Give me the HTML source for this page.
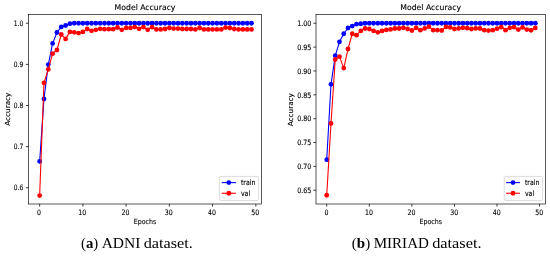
<!DOCTYPE html>
<html lang="en"><head><meta charset="utf-8"><title>Model Accuracy</title>
<style>
html,body{margin:0;padding:0;background:#fff;}
body{width:550px;height:256px;overflow:hidden;position:relative;font-family:"Liberation Serif","DejaVu Serif",serif;}
svg{position:absolute;left:0;top:0;display:block;}
</style></head><body>
<svg width="550" height="256" viewBox="0 0 550 256" font-family="'DejaVu Sans', 'Liberation Sans', sans-serif" fill="#000">
<rect width="550" height="256" fill="#fff"/>
<clipPath id="c28"><rect x="28.5" y="14.45" width="233.05" height="189.55"/></clipPath>
<g clip-path="url(#c28)"><polyline points="39.64,161.43 43.97,98.92 48.29,64.58 52.61,43.40 56.94,32.50 61.26,26.95 65.59,25.51 69.91,23.66 74.23,23.25 78.56,23.25 82.88,23.25 87.20,23.25 91.53,23.25 95.85,23.25 100.18,23.25 104.50,23.25 108.82,23.25 113.15,23.25 117.47,23.25 121.79,23.25 126.12,23.25 130.44,23.25 134.77,23.25 139.09,23.25 143.41,23.25 147.74,23.25 152.06,23.25 156.38,23.25 160.71,23.25 165.03,23.25 169.36,23.25 173.68,23.25 178.00,23.25 182.33,23.25 186.65,23.25 190.97,23.25 195.30,23.25 199.62,23.25 203.95,23.25 208.27,23.25 212.59,23.25 216.92,23.25 221.24,23.25 225.56,23.25 229.89,23.25 234.21,23.25 238.54,23.25 242.86,23.25 247.18,23.25 251.51,23.25" fill="none" stroke="#0000ff" stroke-width="1.1" stroke-linejoin="round"/>
<circle cx="39.64" cy="161.43" r="2.4" fill="#0000ff"/>
<circle cx="43.97" cy="98.92" r="2.4" fill="#0000ff"/>
<circle cx="48.29" cy="64.58" r="2.4" fill="#0000ff"/>
<circle cx="52.61" cy="43.40" r="2.4" fill="#0000ff"/>
<circle cx="56.94" cy="32.50" r="2.4" fill="#0000ff"/>
<circle cx="61.26" cy="26.95" r="2.4" fill="#0000ff"/>
<circle cx="65.59" cy="25.51" r="2.4" fill="#0000ff"/>
<circle cx="69.91" cy="23.66" r="2.4" fill="#0000ff"/>
<circle cx="74.23" cy="23.25" r="2.4" fill="#0000ff"/>
<circle cx="78.56" cy="23.25" r="2.4" fill="#0000ff"/>
<circle cx="82.88" cy="23.25" r="2.4" fill="#0000ff"/>
<circle cx="87.20" cy="23.25" r="2.4" fill="#0000ff"/>
<circle cx="91.53" cy="23.25" r="2.4" fill="#0000ff"/>
<circle cx="95.85" cy="23.25" r="2.4" fill="#0000ff"/>
<circle cx="100.18" cy="23.25" r="2.4" fill="#0000ff"/>
<circle cx="104.50" cy="23.25" r="2.4" fill="#0000ff"/>
<circle cx="108.82" cy="23.25" r="2.4" fill="#0000ff"/>
<circle cx="113.15" cy="23.25" r="2.4" fill="#0000ff"/>
<circle cx="117.47" cy="23.25" r="2.4" fill="#0000ff"/>
<circle cx="121.79" cy="23.25" r="2.4" fill="#0000ff"/>
<circle cx="126.12" cy="23.25" r="2.4" fill="#0000ff"/>
<circle cx="130.44" cy="23.25" r="2.4" fill="#0000ff"/>
<circle cx="134.77" cy="23.25" r="2.4" fill="#0000ff"/>
<circle cx="139.09" cy="23.25" r="2.4" fill="#0000ff"/>
<circle cx="143.41" cy="23.25" r="2.4" fill="#0000ff"/>
<circle cx="147.74" cy="23.25" r="2.4" fill="#0000ff"/>
<circle cx="152.06" cy="23.25" r="2.4" fill="#0000ff"/>
<circle cx="156.38" cy="23.25" r="2.4" fill="#0000ff"/>
<circle cx="160.71" cy="23.25" r="2.4" fill="#0000ff"/>
<circle cx="165.03" cy="23.25" r="2.4" fill="#0000ff"/>
<circle cx="169.36" cy="23.25" r="2.4" fill="#0000ff"/>
<circle cx="173.68" cy="23.25" r="2.4" fill="#0000ff"/>
<circle cx="178.00" cy="23.25" r="2.4" fill="#0000ff"/>
<circle cx="182.33" cy="23.25" r="2.4" fill="#0000ff"/>
<circle cx="186.65" cy="23.25" r="2.4" fill="#0000ff"/>
<circle cx="190.97" cy="23.25" r="2.4" fill="#0000ff"/>
<circle cx="195.30" cy="23.25" r="2.4" fill="#0000ff"/>
<circle cx="199.62" cy="23.25" r="2.4" fill="#0000ff"/>
<circle cx="203.95" cy="23.25" r="2.4" fill="#0000ff"/>
<circle cx="208.27" cy="23.25" r="2.4" fill="#0000ff"/>
<circle cx="212.59" cy="23.25" r="2.4" fill="#0000ff"/>
<circle cx="216.92" cy="23.25" r="2.4" fill="#0000ff"/>
<circle cx="221.24" cy="23.25" r="2.4" fill="#0000ff"/>
<circle cx="225.56" cy="23.25" r="2.4" fill="#0000ff"/>
<circle cx="229.89" cy="23.25" r="2.4" fill="#0000ff"/>
<circle cx="234.21" cy="23.25" r="2.4" fill="#0000ff"/>
<circle cx="238.54" cy="23.25" r="2.4" fill="#0000ff"/>
<circle cx="242.86" cy="23.25" r="2.4" fill="#0000ff"/>
<circle cx="247.18" cy="23.25" r="2.4" fill="#0000ff"/>
<circle cx="251.51" cy="23.25" r="2.4" fill="#0000ff"/>
</g>
<g clip-path="url(#c28)"><polyline points="39.64,195.56 43.97,82.88 48.29,69.31 52.61,53.68 56.94,49.98 61.26,34.48 65.59,38.88 69.91,31.89 74.23,32.30 78.56,33.12 82.88,31.89 87.20,29.01 91.53,30.78 95.85,29.83 100.18,28.80 104.50,29.21 108.82,29.21 113.15,29.21 117.47,27.49 121.79,29.83 126.12,27.90 130.44,27.90 134.77,27.03 139.09,28.80 143.41,27.03 147.74,29.83 152.06,27.16 156.38,29.42 160.71,29.42 165.03,29.01 169.36,27.98 173.68,28.60 178.00,28.60 182.33,29.01 186.65,29.01 190.97,29.01 195.30,29.42 199.62,27.98 203.95,29.42 208.27,29.42 212.59,29.42 216.92,29.42 221.24,29.42 225.56,27.57 229.89,27.98 234.21,29.01 238.54,29.42 242.86,29.42 247.18,29.42 251.51,29.42" fill="none" stroke="#ff0000" stroke-width="1.1" stroke-linejoin="round"/>
<circle cx="39.64" cy="195.56" r="2.4" fill="#ff0000"/>
<circle cx="43.97" cy="82.88" r="2.4" fill="#ff0000"/>
<circle cx="48.29" cy="69.31" r="2.4" fill="#ff0000"/>
<circle cx="52.61" cy="53.68" r="2.4" fill="#ff0000"/>
<circle cx="56.94" cy="49.98" r="2.4" fill="#ff0000"/>
<circle cx="61.26" cy="34.48" r="2.4" fill="#ff0000"/>
<circle cx="65.59" cy="38.88" r="2.4" fill="#ff0000"/>
<circle cx="69.91" cy="31.89" r="2.4" fill="#ff0000"/>
<circle cx="74.23" cy="32.30" r="2.4" fill="#ff0000"/>
<circle cx="78.56" cy="33.12" r="2.4" fill="#ff0000"/>
<circle cx="82.88" cy="31.89" r="2.4" fill="#ff0000"/>
<circle cx="87.20" cy="29.01" r="2.4" fill="#ff0000"/>
<circle cx="91.53" cy="30.78" r="2.4" fill="#ff0000"/>
<circle cx="95.85" cy="29.83" r="2.4" fill="#ff0000"/>
<circle cx="100.18" cy="28.80" r="2.4" fill="#ff0000"/>
<circle cx="104.50" cy="29.21" r="2.4" fill="#ff0000"/>
<circle cx="108.82" cy="29.21" r="2.4" fill="#ff0000"/>
<circle cx="113.15" cy="29.21" r="2.4" fill="#ff0000"/>
<circle cx="117.47" cy="27.49" r="2.4" fill="#ff0000"/>
<circle cx="121.79" cy="29.83" r="2.4" fill="#ff0000"/>
<circle cx="126.12" cy="27.90" r="2.4" fill="#ff0000"/>
<circle cx="130.44" cy="27.90" r="2.4" fill="#ff0000"/>
<circle cx="134.77" cy="27.03" r="2.4" fill="#ff0000"/>
<circle cx="139.09" cy="28.80" r="2.4" fill="#ff0000"/>
<circle cx="143.41" cy="27.03" r="2.4" fill="#ff0000"/>
<circle cx="147.74" cy="29.83" r="2.4" fill="#ff0000"/>
<circle cx="152.06" cy="27.16" r="2.4" fill="#ff0000"/>
<circle cx="156.38" cy="29.42" r="2.4" fill="#ff0000"/>
<circle cx="160.71" cy="29.42" r="2.4" fill="#ff0000"/>
<circle cx="165.03" cy="29.01" r="2.4" fill="#ff0000"/>
<circle cx="169.36" cy="27.98" r="2.4" fill="#ff0000"/>
<circle cx="173.68" cy="28.60" r="2.4" fill="#ff0000"/>
<circle cx="178.00" cy="28.60" r="2.4" fill="#ff0000"/>
<circle cx="182.33" cy="29.01" r="2.4" fill="#ff0000"/>
<circle cx="186.65" cy="29.01" r="2.4" fill="#ff0000"/>
<circle cx="190.97" cy="29.01" r="2.4" fill="#ff0000"/>
<circle cx="195.30" cy="29.42" r="2.4" fill="#ff0000"/>
<circle cx="199.62" cy="27.98" r="2.4" fill="#ff0000"/>
<circle cx="203.95" cy="29.42" r="2.4" fill="#ff0000"/>
<circle cx="208.27" cy="29.42" r="2.4" fill="#ff0000"/>
<circle cx="212.59" cy="29.42" r="2.4" fill="#ff0000"/>
<circle cx="216.92" cy="29.42" r="2.4" fill="#ff0000"/>
<circle cx="221.24" cy="29.42" r="2.4" fill="#ff0000"/>
<circle cx="225.56" cy="27.57" r="2.4" fill="#ff0000"/>
<circle cx="229.89" cy="27.98" r="2.4" fill="#ff0000"/>
<circle cx="234.21" cy="29.01" r="2.4" fill="#ff0000"/>
<circle cx="238.54" cy="29.42" r="2.4" fill="#ff0000"/>
<circle cx="242.86" cy="29.42" r="2.4" fill="#ff0000"/>
<circle cx="247.18" cy="29.42" r="2.4" fill="#ff0000"/>
<circle cx="251.51" cy="29.42" r="2.4" fill="#ff0000"/>
</g>
<rect x="28.5" y="14.45" width="233.05" height="189.55" fill="none" stroke="#000" stroke-width="0.65"/>
<line x1="39.64" y1="204.0" x2="39.64" y2="206.6" stroke="#000" stroke-width="0.75"/>
<text transform="translate(38.99,215.10) scale(0.835,1)" text-anchor="middle" font-size="7.5" stroke="#000" stroke-width="0.12">0</text>
<line x1="82.88" y1="204.0" x2="82.88" y2="206.6" stroke="#000" stroke-width="0.75"/>
<text transform="translate(82.23,215.10) scale(0.835,1)" text-anchor="middle" font-size="7.5" stroke="#000" stroke-width="0.12">10</text>
<line x1="126.12" y1="204.0" x2="126.12" y2="206.6" stroke="#000" stroke-width="0.75"/>
<text transform="translate(125.47,215.10) scale(0.835,1)" text-anchor="middle" font-size="7.5" stroke="#000" stroke-width="0.12">20</text>
<line x1="169.36" y1="204.0" x2="169.36" y2="206.6" stroke="#000" stroke-width="0.75"/>
<text transform="translate(168.71,215.10) scale(0.835,1)" text-anchor="middle" font-size="7.5" stroke="#000" stroke-width="0.12">30</text>
<line x1="212.59" y1="204.0" x2="212.59" y2="206.6" stroke="#000" stroke-width="0.75"/>
<text transform="translate(211.94,215.10) scale(0.835,1)" text-anchor="middle" font-size="7.5" stroke="#000" stroke-width="0.12">40</text>
<line x1="255.83" y1="204.0" x2="255.83" y2="206.6" stroke="#000" stroke-width="0.75"/>
<text transform="translate(255.18,215.10) scale(0.835,1)" text-anchor="middle" font-size="7.5" stroke="#000" stroke-width="0.12">50</text>
<line x1="25.9" y1="187.75" x2="28.5" y2="187.75" stroke="#000" stroke-width="0.75"/>
<text transform="translate(23.30,190.49) scale(0.8,1)" text-anchor="end" font-size="7.5" stroke="#000" stroke-width="0.12">0.6</text>
<line x1="25.9" y1="146.62" x2="28.5" y2="146.62" stroke="#000" stroke-width="0.75"/>
<text transform="translate(23.30,149.36) scale(0.8,1)" text-anchor="end" font-size="7.5" stroke="#000" stroke-width="0.12">0.7</text>
<line x1="25.9" y1="105.50" x2="28.5" y2="105.50" stroke="#000" stroke-width="0.75"/>
<text transform="translate(23.30,108.24) scale(0.8,1)" text-anchor="end" font-size="7.5" stroke="#000" stroke-width="0.12">0.8</text>
<line x1="25.9" y1="64.38" x2="28.5" y2="64.38" stroke="#000" stroke-width="0.75"/>
<text transform="translate(23.30,67.11) scale(0.8,1)" text-anchor="end" font-size="7.5" stroke="#000" stroke-width="0.12">0.9</text>
<line x1="25.9" y1="23.25" x2="28.5" y2="23.25" stroke="#000" stroke-width="0.75"/>
<text transform="translate(23.30,25.99) scale(0.8,1)" text-anchor="end" font-size="7.5" stroke="#000" stroke-width="0.12">1.0</text>
<text transform="translate(145.03,9.90) scale(0.99,1)" text-anchor="middle" font-size="7.8" stroke="#000" stroke-width="0.12">Model Accuracy</text>
<text transform="translate(145.03,224.45) scale(0.875,1)" text-anchor="middle" font-size="7.2" stroke="#000" stroke-width="0.12">Epochs</text>
<text transform="translate(9.50,109.22) rotate(-90) scale(1.045,1)" text-anchor="middle" font-size="7.0" stroke="#000" stroke-width="0.12">Accuracy</text>
<rect x="219.3" y="176.4" width="39.30000000000001" height="24.099999999999994" rx="1.5" fill="#fff" fill-opacity="0.8" stroke="#cfcfcf" stroke-width="0.7"/>
<line x1="221.75" y1="182.60" x2="235.90" y2="182.60" stroke="#0000ff" stroke-width="1.1"/>
<circle cx="228.83" cy="182.60" r="2.4" fill="#0000ff"/>
<text transform="translate(240.90,185.07) scale(0.835,1)" text-anchor="start" font-size="7.5" stroke="#000" stroke-width="0.12">train</text>
<line x1="221.75" y1="193.25" x2="235.90" y2="193.25" stroke="#ff0000" stroke-width="1.1"/>
<circle cx="228.83" cy="193.25" r="2.4" fill="#ff0000"/>
<text transform="translate(240.90,195.72) scale(0.835,1)" text-anchor="start" font-size="7.5" stroke="#000" stroke-width="0.12">val</text>
<clipPath id="c316"><rect x="316.0" y="14.45" width="229.45000000000005" height="189.55"/></clipPath>
<g clip-path="url(#c316)"><polyline points="326.73,159.71 330.99,84.32 335.24,55.70 339.50,41.86 343.76,33.75 348.01,28.02 352.27,26.11 356.53,24.20 360.79,23.73 365.04,23.25 369.30,23.25 373.56,23.25 377.81,23.25 382.07,23.25 386.33,23.25 390.58,23.25 394.84,23.25 399.10,23.25 403.35,23.25 407.61,23.25 411.87,23.25 416.13,23.25 420.38,23.25 424.64,23.25 428.90,23.25 433.15,23.25 437.41,23.25 441.67,23.25 445.92,23.25 450.18,23.25 454.44,23.25 458.70,23.25 462.95,23.25 467.21,23.25 471.47,23.25 475.72,23.25 479.98,23.25 484.24,23.25 488.49,23.25 492.75,23.25 497.01,23.25 501.26,23.25 505.52,23.25 509.78,23.25 514.04,23.25 518.29,23.25 522.55,23.25 526.81,23.25 531.06,23.25 535.32,23.25" fill="none" stroke="#0000ff" stroke-width="1.1" stroke-linejoin="round"/>
<circle cx="326.73" cy="159.71" r="2.4" fill="#0000ff"/>
<circle cx="330.99" cy="84.32" r="2.4" fill="#0000ff"/>
<circle cx="335.24" cy="55.70" r="2.4" fill="#0000ff"/>
<circle cx="339.50" cy="41.86" r="2.4" fill="#0000ff"/>
<circle cx="343.76" cy="33.75" r="2.4" fill="#0000ff"/>
<circle cx="348.01" cy="28.02" r="2.4" fill="#0000ff"/>
<circle cx="352.27" cy="26.11" r="2.4" fill="#0000ff"/>
<circle cx="356.53" cy="24.20" r="2.4" fill="#0000ff"/>
<circle cx="360.79" cy="23.73" r="2.4" fill="#0000ff"/>
<circle cx="365.04" cy="23.25" r="2.4" fill="#0000ff"/>
<circle cx="369.30" cy="23.25" r="2.4" fill="#0000ff"/>
<circle cx="373.56" cy="23.25" r="2.4" fill="#0000ff"/>
<circle cx="377.81" cy="23.25" r="2.4" fill="#0000ff"/>
<circle cx="382.07" cy="23.25" r="2.4" fill="#0000ff"/>
<circle cx="386.33" cy="23.25" r="2.4" fill="#0000ff"/>
<circle cx="390.58" cy="23.25" r="2.4" fill="#0000ff"/>
<circle cx="394.84" cy="23.25" r="2.4" fill="#0000ff"/>
<circle cx="399.10" cy="23.25" r="2.4" fill="#0000ff"/>
<circle cx="403.35" cy="23.25" r="2.4" fill="#0000ff"/>
<circle cx="407.61" cy="23.25" r="2.4" fill="#0000ff"/>
<circle cx="411.87" cy="23.25" r="2.4" fill="#0000ff"/>
<circle cx="416.13" cy="23.25" r="2.4" fill="#0000ff"/>
<circle cx="420.38" cy="23.25" r="2.4" fill="#0000ff"/>
<circle cx="424.64" cy="23.25" r="2.4" fill="#0000ff"/>
<circle cx="428.90" cy="23.25" r="2.4" fill="#0000ff"/>
<circle cx="433.15" cy="23.25" r="2.4" fill="#0000ff"/>
<circle cx="437.41" cy="23.25" r="2.4" fill="#0000ff"/>
<circle cx="441.67" cy="23.25" r="2.4" fill="#0000ff"/>
<circle cx="445.92" cy="23.25" r="2.4" fill="#0000ff"/>
<circle cx="450.18" cy="23.25" r="2.4" fill="#0000ff"/>
<circle cx="454.44" cy="23.25" r="2.4" fill="#0000ff"/>
<circle cx="458.70" cy="23.25" r="2.4" fill="#0000ff"/>
<circle cx="462.95" cy="23.25" r="2.4" fill="#0000ff"/>
<circle cx="467.21" cy="23.25" r="2.4" fill="#0000ff"/>
<circle cx="471.47" cy="23.25" r="2.4" fill="#0000ff"/>
<circle cx="475.72" cy="23.25" r="2.4" fill="#0000ff"/>
<circle cx="479.98" cy="23.25" r="2.4" fill="#0000ff"/>
<circle cx="484.24" cy="23.25" r="2.4" fill="#0000ff"/>
<circle cx="488.49" cy="23.25" r="2.4" fill="#0000ff"/>
<circle cx="492.75" cy="23.25" r="2.4" fill="#0000ff"/>
<circle cx="497.01" cy="23.25" r="2.4" fill="#0000ff"/>
<circle cx="501.26" cy="23.25" r="2.4" fill="#0000ff"/>
<circle cx="505.52" cy="23.25" r="2.4" fill="#0000ff"/>
<circle cx="509.78" cy="23.25" r="2.4" fill="#0000ff"/>
<circle cx="514.04" cy="23.25" r="2.4" fill="#0000ff"/>
<circle cx="518.29" cy="23.25" r="2.4" fill="#0000ff"/>
<circle cx="522.55" cy="23.25" r="2.4" fill="#0000ff"/>
<circle cx="526.81" cy="23.25" r="2.4" fill="#0000ff"/>
<circle cx="531.06" cy="23.25" r="2.4" fill="#0000ff"/>
<circle cx="535.32" cy="23.25" r="2.4" fill="#0000ff"/>
</g>
<g clip-path="url(#c316)"><polyline points="326.73,195.26 330.99,123.45 335.24,59.51 339.50,56.65 343.76,68.10 348.01,49.02 352.27,33.75 356.53,35.18 360.79,30.88 365.04,28.50 369.30,28.98 373.56,30.88 377.81,32.32 382.07,30.88 386.33,29.93 390.58,29.45 394.84,28.50 399.10,28.50 403.35,27.83 407.61,28.98 411.87,30.50 416.13,27.83 420.38,30.17 424.64,28.40 428.90,26.64 433.15,30.17 437.41,30.17 441.67,30.50 445.92,26.97 450.18,27.40 454.44,28.98 458.70,28.40 462.95,27.83 467.21,28.16 471.47,28.98 475.72,28.40 479.98,28.50 484.24,30.17 488.49,30.60 492.75,30.17 497.01,28.64 501.26,27.21 505.52,30.17 509.78,27.83 514.04,27.21 518.29,29.55 522.55,27.45 526.81,29.55 531.06,30.26 535.32,27.93" fill="none" stroke="#ff0000" stroke-width="1.1" stroke-linejoin="round"/>
<circle cx="326.73" cy="195.26" r="2.4" fill="#ff0000"/>
<circle cx="330.99" cy="123.45" r="2.4" fill="#ff0000"/>
<circle cx="335.24" cy="59.51" r="2.4" fill="#ff0000"/>
<circle cx="339.50" cy="56.65" r="2.4" fill="#ff0000"/>
<circle cx="343.76" cy="68.10" r="2.4" fill="#ff0000"/>
<circle cx="348.01" cy="49.02" r="2.4" fill="#ff0000"/>
<circle cx="352.27" cy="33.75" r="2.4" fill="#ff0000"/>
<circle cx="356.53" cy="35.18" r="2.4" fill="#ff0000"/>
<circle cx="360.79" cy="30.88" r="2.4" fill="#ff0000"/>
<circle cx="365.04" cy="28.50" r="2.4" fill="#ff0000"/>
<circle cx="369.30" cy="28.98" r="2.4" fill="#ff0000"/>
<circle cx="373.56" cy="30.88" r="2.4" fill="#ff0000"/>
<circle cx="377.81" cy="32.32" r="2.4" fill="#ff0000"/>
<circle cx="382.07" cy="30.88" r="2.4" fill="#ff0000"/>
<circle cx="386.33" cy="29.93" r="2.4" fill="#ff0000"/>
<circle cx="390.58" cy="29.45" r="2.4" fill="#ff0000"/>
<circle cx="394.84" cy="28.50" r="2.4" fill="#ff0000"/>
<circle cx="399.10" cy="28.50" r="2.4" fill="#ff0000"/>
<circle cx="403.35" cy="27.83" r="2.4" fill="#ff0000"/>
<circle cx="407.61" cy="28.98" r="2.4" fill="#ff0000"/>
<circle cx="411.87" cy="30.50" r="2.4" fill="#ff0000"/>
<circle cx="416.13" cy="27.83" r="2.4" fill="#ff0000"/>
<circle cx="420.38" cy="30.17" r="2.4" fill="#ff0000"/>
<circle cx="424.64" cy="28.40" r="2.4" fill="#ff0000"/>
<circle cx="428.90" cy="26.64" r="2.4" fill="#ff0000"/>
<circle cx="433.15" cy="30.17" r="2.4" fill="#ff0000"/>
<circle cx="437.41" cy="30.17" r="2.4" fill="#ff0000"/>
<circle cx="441.67" cy="30.50" r="2.4" fill="#ff0000"/>
<circle cx="445.92" cy="26.97" r="2.4" fill="#ff0000"/>
<circle cx="450.18" cy="27.40" r="2.4" fill="#ff0000"/>
<circle cx="454.44" cy="28.98" r="2.4" fill="#ff0000"/>
<circle cx="458.70" cy="28.40" r="2.4" fill="#ff0000"/>
<circle cx="462.95" cy="27.83" r="2.4" fill="#ff0000"/>
<circle cx="467.21" cy="28.16" r="2.4" fill="#ff0000"/>
<circle cx="471.47" cy="28.98" r="2.4" fill="#ff0000"/>
<circle cx="475.72" cy="28.40" r="2.4" fill="#ff0000"/>
<circle cx="479.98" cy="28.50" r="2.4" fill="#ff0000"/>
<circle cx="484.24" cy="30.17" r="2.4" fill="#ff0000"/>
<circle cx="488.49" cy="30.60" r="2.4" fill="#ff0000"/>
<circle cx="492.75" cy="30.17" r="2.4" fill="#ff0000"/>
<circle cx="497.01" cy="28.64" r="2.4" fill="#ff0000"/>
<circle cx="501.26" cy="27.21" r="2.4" fill="#ff0000"/>
<circle cx="505.52" cy="30.17" r="2.4" fill="#ff0000"/>
<circle cx="509.78" cy="27.83" r="2.4" fill="#ff0000"/>
<circle cx="514.04" cy="27.21" r="2.4" fill="#ff0000"/>
<circle cx="518.29" cy="29.55" r="2.4" fill="#ff0000"/>
<circle cx="522.55" cy="27.45" r="2.4" fill="#ff0000"/>
<circle cx="526.81" cy="29.55" r="2.4" fill="#ff0000"/>
<circle cx="531.06" cy="30.26" r="2.4" fill="#ff0000"/>
<circle cx="535.32" cy="27.93" r="2.4" fill="#ff0000"/>
</g>
<rect x="316.0" y="14.45" width="229.45000000000005" height="189.55" fill="none" stroke="#000" stroke-width="0.65"/>
<line x1="326.73" y1="204.0" x2="326.73" y2="206.6" stroke="#000" stroke-width="0.75"/>
<text transform="translate(326.43,215.10) scale(0.835,1)" text-anchor="middle" font-size="7.5" stroke="#000" stroke-width="0.12">0</text>
<line x1="369.30" y1="204.0" x2="369.30" y2="206.6" stroke="#000" stroke-width="0.75"/>
<text transform="translate(369.00,215.10) scale(0.835,1)" text-anchor="middle" font-size="7.5" stroke="#000" stroke-width="0.12">10</text>
<line x1="411.87" y1="204.0" x2="411.87" y2="206.6" stroke="#000" stroke-width="0.75"/>
<text transform="translate(411.57,215.10) scale(0.835,1)" text-anchor="middle" font-size="7.5" stroke="#000" stroke-width="0.12">20</text>
<line x1="454.44" y1="204.0" x2="454.44" y2="206.6" stroke="#000" stroke-width="0.75"/>
<text transform="translate(454.14,215.10) scale(0.835,1)" text-anchor="middle" font-size="7.5" stroke="#000" stroke-width="0.12">30</text>
<line x1="497.01" y1="204.0" x2="497.01" y2="206.6" stroke="#000" stroke-width="0.75"/>
<text transform="translate(496.71,215.10) scale(0.835,1)" text-anchor="middle" font-size="7.5" stroke="#000" stroke-width="0.12">40</text>
<line x1="539.58" y1="204.0" x2="539.58" y2="206.6" stroke="#000" stroke-width="0.75"/>
<text transform="translate(539.28,215.10) scale(0.835,1)" text-anchor="middle" font-size="7.5" stroke="#000" stroke-width="0.12">50</text>
<line x1="313.4" y1="190.25" x2="316.0" y2="190.25" stroke="#000" stroke-width="0.75"/>
<text transform="translate(311.35,192.99) scale(0.85,1)" text-anchor="end" font-size="7.5" stroke="#000" stroke-width="0.12">0.65</text>
<line x1="313.4" y1="166.39" x2="316.0" y2="166.39" stroke="#000" stroke-width="0.75"/>
<text transform="translate(311.35,169.13) scale(0.85,1)" text-anchor="end" font-size="7.5" stroke="#000" stroke-width="0.12">0.70</text>
<line x1="313.4" y1="142.54" x2="316.0" y2="142.54" stroke="#000" stroke-width="0.75"/>
<text transform="translate(311.35,145.27) scale(0.85,1)" text-anchor="end" font-size="7.5" stroke="#000" stroke-width="0.12">0.75</text>
<line x1="313.4" y1="118.68" x2="316.0" y2="118.68" stroke="#000" stroke-width="0.75"/>
<text transform="translate(311.35,121.42) scale(0.85,1)" text-anchor="end" font-size="7.5" stroke="#000" stroke-width="0.12">0.80</text>
<line x1="313.4" y1="94.82" x2="316.0" y2="94.82" stroke="#000" stroke-width="0.75"/>
<text transform="translate(311.35,97.56) scale(0.85,1)" text-anchor="end" font-size="7.5" stroke="#000" stroke-width="0.12">0.85</text>
<line x1="313.4" y1="70.96" x2="316.0" y2="70.96" stroke="#000" stroke-width="0.75"/>
<text transform="translate(311.35,73.70) scale(0.85,1)" text-anchor="end" font-size="7.5" stroke="#000" stroke-width="0.12">0.90</text>
<line x1="313.4" y1="47.11" x2="316.0" y2="47.11" stroke="#000" stroke-width="0.75"/>
<text transform="translate(311.35,49.84) scale(0.85,1)" text-anchor="end" font-size="7.5" stroke="#000" stroke-width="0.12">0.95</text>
<line x1="313.4" y1="23.25" x2="316.0" y2="23.25" stroke="#000" stroke-width="0.75"/>
<text transform="translate(311.35,25.99) scale(0.85,1)" text-anchor="end" font-size="7.5" stroke="#000" stroke-width="0.12">1.00</text>
<text transform="translate(430.73,9.90) scale(0.99,1)" text-anchor="middle" font-size="7.8" stroke="#000" stroke-width="0.12">Model Accuracy</text>
<text transform="translate(430.73,224.45) scale(0.875,1)" text-anchor="middle" font-size="7.2" stroke="#000" stroke-width="0.12">Epochs</text>
<text transform="translate(292.70,109.72) rotate(-90) scale(1.045,1)" text-anchor="middle" font-size="7.0" stroke="#000" stroke-width="0.12">Accuracy</text>
<rect x="504.25" y="176.4" width="38.35000000000002" height="24.099999999999994" rx="1.5" fill="#fff" fill-opacity="0.8" stroke="#cfcfcf" stroke-width="0.7"/>
<line x1="506.10" y1="182.60" x2="519.90" y2="182.60" stroke="#0000ff" stroke-width="1.1"/>
<circle cx="513.00" cy="182.60" r="2.4" fill="#0000ff"/>
<text transform="translate(524.90,185.07) scale(0.835,1)" text-anchor="start" font-size="7.5" stroke="#000" stroke-width="0.12">train</text>
<line x1="506.10" y1="193.25" x2="519.90" y2="193.25" stroke="#ff0000" stroke-width="1.1"/>
<circle cx="513.00" cy="193.25" r="2.4" fill="#ff0000"/>
<text transform="translate(524.90,195.72) scale(0.835,1)" text-anchor="start" font-size="7.5" stroke="#000" stroke-width="0.12">val</text>
<g font-family="'Liberation Serif', 'DejaVu Serif', serif" font-size="13.7">
<text transform="translate(81.01,247.8) scale(1.0746,1)">(<tspan font-weight="bold">a</tspan>)</text>
<text transform="translate(101.64,247.8) scale(1.1335,1)">ADNI</text>
<text transform="translate(143.70,247.8) scale(1.1861,1)">dataset.</text>
<text transform="translate(351.85,247.8) scale(1.0981,1)">(<tspan font-weight="bold">b</tspan>)</text>
<text transform="translate(373.65,247.8) scale(1.1010,1)">MIRIAD</text>
<text transform="translate(432.15,247.8) scale(1.1924,1)">dataset.</text>
</g>
</svg>
</body></html>
